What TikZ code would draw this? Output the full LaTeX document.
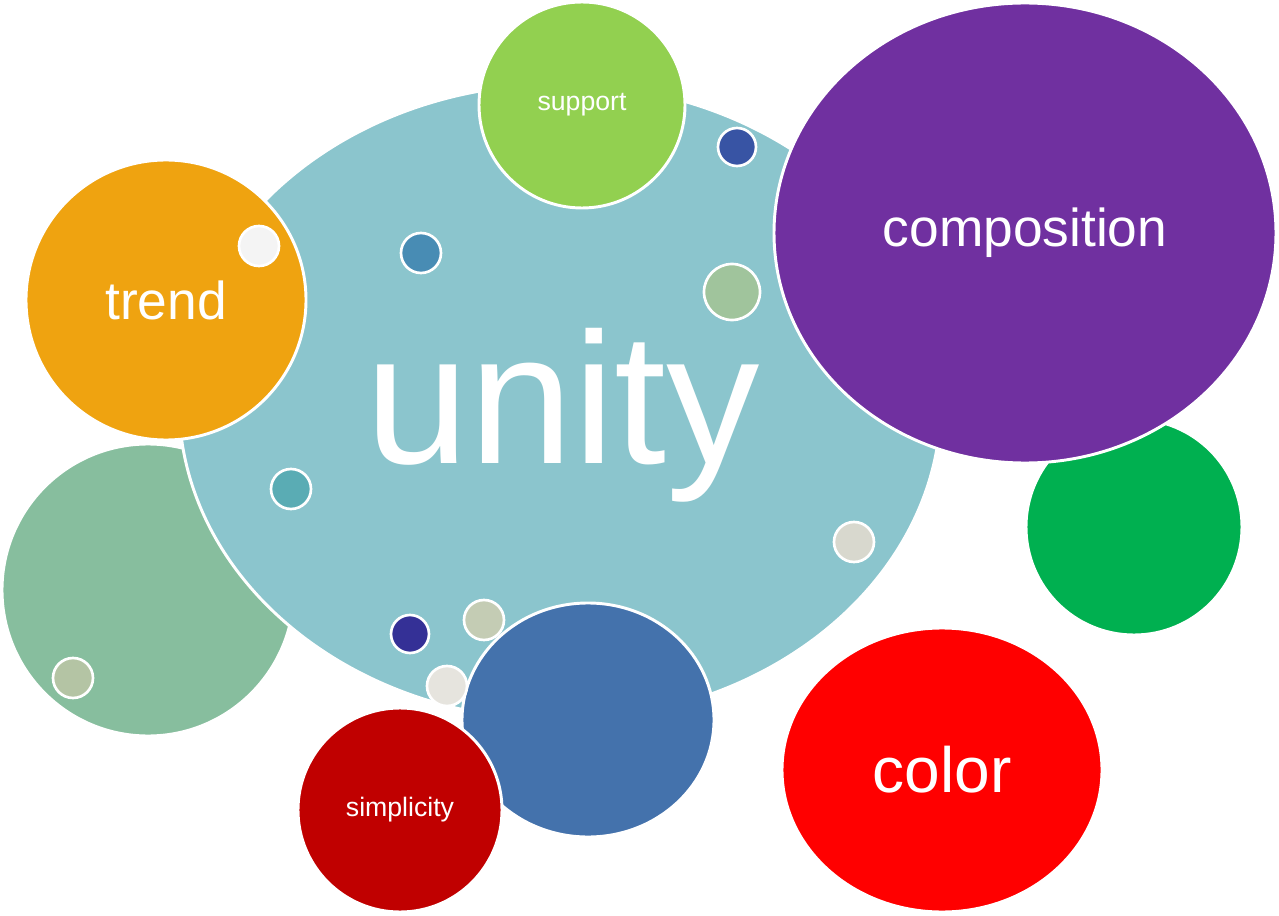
\documentclass[tikz,border=0pt]{standalone}
\usepackage{fontspec}
\setmainfont{Liberation Sans}
\begin{document}
\begin{tikzpicture}[x=0.75pt,y=-0.75pt,
 bub/.style={draw=white,line width=2.2pt},
 dot/.style={draw=white,line width=2pt},
 lbl/.style={text=white,font=#1}]
\useasboundingbox (0,0) rectangle (1279,916);
\fill[white] (0,0) rectangle (1279,916);
\definecolor{cUnity}{HTML}{8BC5CD}
\filldraw[bub,fill={rgb,255:red,135;green,190;blue,158}] (148,590) circle[radius=146];
\filldraw[bub,fill={rgb,255:red,0;green,176;blue,80}] (1134,527) circle[radius=108];
\filldraw[bub,fill=cUnity] (560,402) ellipse[x radius=381,y radius=318];
\node[lbl={\fontsize{140}{140}\selectfont}] (unity) at (563,415) {unity};
\filldraw[bub,fill={rgb,255:red,239;green,163;blue,16}] (166,300) circle[radius=140];
\node[lbl={\fontsize{40}{40}\selectfont}] (trend) at (166,300) {trend};
\filldraw[bub,fill={rgb,255:red,146;green,208;blue,80}] (582,105) circle[radius=103];
\node[lbl={\fontsize{20}{20}\selectfont}] (support) at (582,105) {support};
\filldraw[bub,fill={rgb,255:red,112;green,48;blue,160}] (1025,233) ellipse[x radius=251,y radius=230];
\node[lbl={\fontsize{40}{40}\selectfont}] (comp) at (1025,233) {composition};
\filldraw[bub,fill={rgb,255:red,68;green,114;blue,172}] (588,720) ellipse[x radius=126,y radius=117];
\filldraw[bub,fill={rgb,255:red,192;green,0;blue,0}] (400,810) circle[radius=102];
\node[lbl={\fontsize{20}{20}\selectfont}] (simp) at (400,810) {simplicity};
\filldraw[bub,fill={rgb,255:red,255;green,0;blue,0}] (942,770) ellipse[x radius=160,y radius=142];
\node[lbl={\fontsize{48}{48}\selectfont}] (color) at (942,770) {color};
\filldraw[dot,fill={rgb,255:red,56;green,84;blue,164}] (737,147) circle[radius=19];
\filldraw[dot,fill={rgb,255:red,72;green,140;blue,180}] (421,253) circle[radius=20];
\filldraw[dot,fill={rgb,255:red,160;green,196;blue,156}] (732,292) circle[radius=28];
\filldraw[dot,fill={rgb,255:red,244;green,244;blue,244}] (259,246) circle[radius=20];
\filldraw[dot,fill={rgb,255:red,90;green,172;blue,180}] (291,489) circle[radius=20];
\filldraw[dot,fill={rgb,255:red,216;green,216;blue,206}] (854,542) circle[radius=20];
\filldraw[dot,fill={rgb,255:red,196;green,204;blue,180}] (484,620) circle[radius=20];
\filldraw[dot,fill={rgb,255:red,52;green,48;blue,150}] (410,634) circle[radius=19];
\filldraw[dot,fill={rgb,255:red,230;green,228;blue,222}] (447,686) circle[radius=20];
\filldraw[dot,fill={rgb,255:red,180;green,196;blue,164}] (73,678) circle[radius=20];
\end{tikzpicture}
\end{document}
